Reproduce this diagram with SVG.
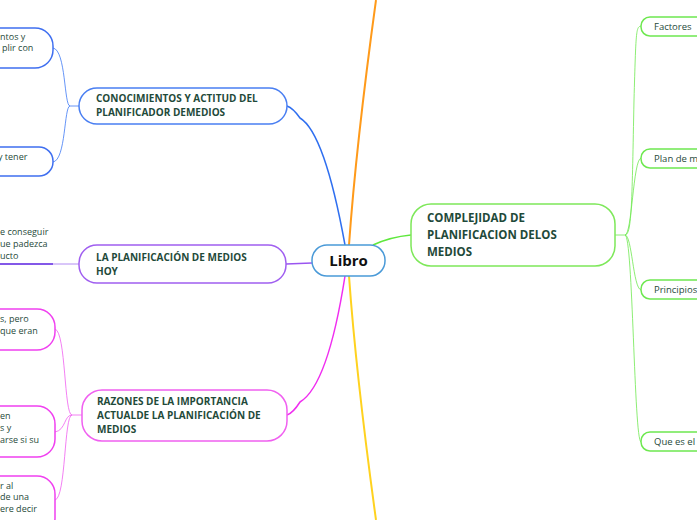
<svg xmlns="http://www.w3.org/2000/svg" width="697" height="520" viewBox="0 0 697 520">
<style>
text{font-family:"Open Sans","Noto Sans",sans-serif;fill:#1f4a3a}
.b{font-weight:bold;font-size:10px}
.l{font-size:9px}
.n{fill:#fff;stroke-width:1.5}
.e{fill:none}
</style>
<rect width="697" height="520" fill="#fff"/>
<g id="connectors">
<path class="e" d="M349 245 C355 160 365 80 376 0" stroke="#ff9a1a" stroke-width="2"/>
<path class="e" d="M349 276 C355 360 365 440 376 520" stroke="#ffd21f" stroke-width="2"/>
<path class="e" d="M345 245 C335 190 320 130 300 118 Q293 108 287 106" stroke="#2f6ff0" stroke-width="1.5"/>
<path class="e" d="M312 263 L286 264" stroke="#9a55f0" stroke-width="1.5"/>
<path class="e" d="M345 276 C335 340 320 390 300 402 Q293 413 287 415" stroke="#f02ef0" stroke-width="1.5"/>
<path class="e" d="M373 245 Q390 237 411 235" stroke="#5ee83c" stroke-width="1.5"/>
<g stroke="#6ee850" stroke-width="0.8" fill="none">
<path d="M615 235 L625 235 C632 235 632 200 634 100 C636 30 636 27 641 26"/>
<path d="M625 235 C632 235 633 160 641 158"/>
<path d="M625 235 C632 235 633 288 641 290"/>
<path d="M625 235 C633 235 634 440 641 442"/>
</g>
<g stroke="#3f7af5" stroke-width="0.8" fill="none">
<path d="M79 106 L70 106 C64 106 66 50 53 48"/>
<path d="M70 106 C64 106 66 160 53 162"/>
</g>
<path d="M0 264 L53 264" stroke="#5a20e0" stroke-width="1.5"/>
<path d="M53 264 L79 264" stroke="#a070f0" stroke-width="0.8"/>
<g stroke="#f060f0" stroke-width="0.8" fill="none">
<path d="M82 415 L72 415 C64 415 66 332 55 329"/>
<path d="M72 415 C64 415 66 430 55 432"/>
<path d="M72 415 C64 415 66 498 55 500"/>
</g>
</g>
<g id="libro"><rect class="n" x="312" y="245" width="73" height="31" rx="15" stroke="#4a9ad8"/><text x="348.5" y="266" text-anchor="middle" style="font-weight:bold;font-size:15px;fill:#111">Libro</text></g>
<g id="n-conoc"><rect class="n" x="79" y="88" width="208" height="36" rx="18" stroke="#4a7ff2"/><text class="b" x="96" y="102">CONOCIMIENTOS Y ACTITUD DEL</text><text class="b" x="96" y="116">PLANIFICADOR DEMEDIOS</text></g>
<g id="l-conoc1"><rect class="n" x="-30" y="28" width="83" height="40" rx="18" stroke="#3f6ff0"/><text class="l" x="0" y="40">ntos y</text><text class="l" x="2" y="51">plir con</text></g>
<g id="l-conoc2"><rect class="n" x="-30" y="147" width="83" height="29" rx="14" stroke="#3f6ff0"/><text class="l" x="-2" y="160">y tener</text></g>
<g id="n-hoy"><rect class="n" x="79" y="245" width="207" height="38" rx="18" stroke="#a05ff0"/><text class="b" x="96" y="261">LA PLANIFICACIÓN DE MEDIOS</text><text class="b" x="96" y="275">HOY</text></g>
<g id="l-hoy"><text class="l" x="0" y="235">e conseguir</text><text class="l" x="0" y="247">ue padezca</text><text class="l" x="0" y="259">ucto</text></g>
<g id="n-razones"><rect class="n" x="82" y="390" width="205" height="51" rx="20" stroke="#f060f0"/><text class="b" x="97" y="405">RAZONES DE LA IMPORTANCIA</text><text class="b" x="97" y="419">ACTUALDE LA PLANIFICACIÓN DE</text><text class="b" x="97" y="433">MEDIOS</text></g>
<g id="l-raz1"><rect class="n" x="-30" y="309" width="85" height="41" rx="18" stroke="#f040f0"/><text class="l" x="0" y="322">s, pero</text><text class="l" x="0" y="334">que eran</text></g>
<g id="l-raz2"><rect class="n" x="-30" y="406" width="85" height="51" rx="18" stroke="#f040f0"/><text class="l" x="0" y="419">en</text><text class="l" x="0" y="431">s y</text><text class="l" x="0" y="443">arse si su</text></g>
<g id="l-raz3"><rect class="n" x="-30" y="476" width="85" height="60" rx="18" stroke="#f040f0"/><text class="l" x="0" y="489">r al</text><text class="l" x="0" y="500">de una</text><text class="l" x="0" y="512">ere decir</text></g>
<g id="n-compl"><rect class="n" x="411" y="204" width="204" height="62" rx="20" stroke="#7ee85a"/><text class="b" x="427" y="222" style="font-size:11.5px">COMPLEJIDAD DE</text><text class="b" x="427" y="239" style="font-size:11.5px">PLANIFICACION DELOS</text><text class="b" x="427" y="256" style="font-size:11.5px">MEDIOS</text></g>
<g id="l-factores"><rect class="n" x="641" y="17" width="80" height="19" rx="9" stroke="#6ee850"/><text class="l" x="654" y="30" style="font-size:9.5px">Factores</text></g>
<g id="l-plan"><rect class="n" x="641" y="149" width="80" height="19" rx="9" stroke="#6ee850"/><text class="l" x="654" y="162" style="font-size:9.5px">Plan de m</text></g>
<g id="l-princ"><rect class="n" x="641" y="280" width="80" height="19" rx="9" stroke="#6ee850"/><text class="l" x="654" y="293" style="font-size:9.5px">Principios</text></g>
<g id="l-que"><rect class="n" x="641" y="432" width="80" height="19" rx="9" stroke="#6ee850"/><text class="l" x="654" y="445" style="font-size:9.5px">Que es el</text></g>
</svg>
